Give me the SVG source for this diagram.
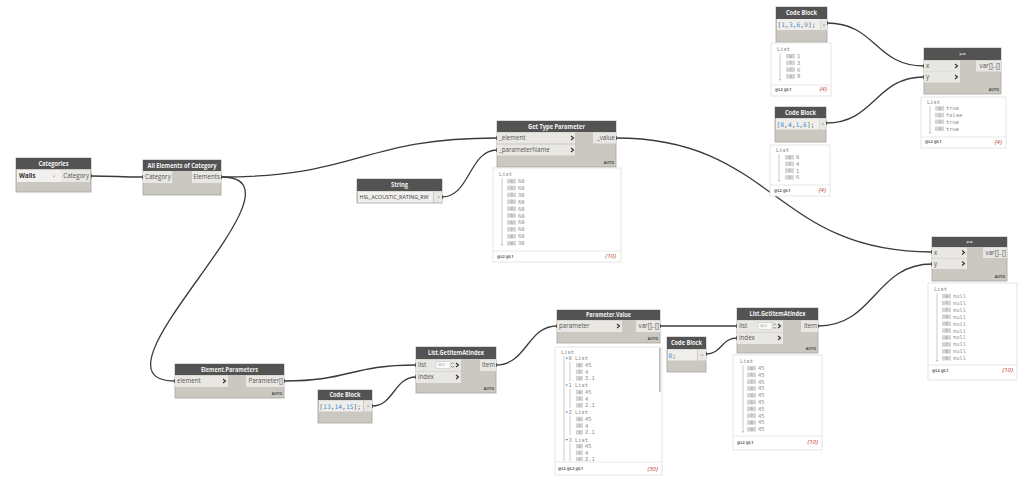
<svg xmlns="http://www.w3.org/2000/svg" width="1024" height="481" viewBox="0 0 1024 481">
<style>
.body{fill:#cbc8c2;stroke:#a8a49e;stroke-width:0.8}
.hdr{fill:#535353}
.ttl{font-family:"Open Sans","Liberation Sans",sans-serif;font-size:6.2px;font-weight:bold;fill:#f2f2f2;text-anchor:middle}
.port{fill:#e9e7e3}
.pt{font-family:"Open Sans","Liberation Sans",sans-serif;font-size:6.2px;fill:#555}
.ptr{font-family:"Open Sans","Liberation Sans",sans-serif;font-size:6.2px;fill:#555;text-anchor:end}
.chev{fill:none;stroke:#333;stroke-width:1.1}
.auto{font-family:"Open Sans","Liberation Sans",sans-serif;font-size:3.6px;font-weight:bold;fill:#444;text-anchor:end}
.code{font-family:"DejaVu Sans Mono","Liberation Mono",monospace;font-size:6.3px;fill:#666}
.num{fill:#3b8fdc}
.out{font-family:"Open Sans","Liberation Sans",sans-serif;font-size:5.5px;fill:#666}
.pv{fill:#ffffff;stroke:#dedede;stroke-width:0.8}
.fl{stroke:#e2e2e2;stroke-width:0.8}
.lt{font-family:"DejaVu Sans Mono","Liberation Mono",monospace;font-size:5.4px;fill:#888}
.ib{fill:#d6d6d6}
.it{font-family:"DejaVu Sans Mono","Liberation Mono",monospace;font-size:4.4px;fill:#999;text-anchor:middle}
.tl{stroke:#aaa;stroke-width:0.6;fill:none}
.ft{font-family:"Open Sans","Liberation Sans",sans-serif;font-size:3.8px;font-weight:bold;fill:#555}
.cnt{font-family:"Open Sans","Liberation Sans",sans-serif;font-size:6px;font-style:italic;fill:#c0392b;text-anchor:end}
.w{fill:none;stroke:#3a3a3a;stroke-width:1.3;marker-start:url(#pm);marker-end:url(#pm)}
.arr{fill:#3b8fdc}
.lvl{font-family:"Open Sans","Liberation Sans",sans-serif;font-size:3.4px;fill:#888}
</style>
<defs>
<marker id="pm" viewBox="0 0 4 4" refX="2" refY="2" markerWidth="2.4" markerHeight="3.6" markerUnits="userSpaceOnUse" preserveAspectRatio="none">
<rect x="0" y="0" width="4" height="4" fill="#222"/>
</marker>
<clipPath id="pvclip"><rect x="555" y="347" width="104" height="114"/></clipPath>
</defs>
<rect width="1024" height="481" fill="#ffffff"/>

<g id="connectors">
<path class="w" d="M91,176 C117,176 117,177 143,177"/>
<path class="w" d="M221,177 C360,177 360,138 497,138"/>
<path class="w" d="M221,177 C321,177 75,381 175,381"/>
<path class="w" d="M442,197 C470,197 469,150 497,150"/>
<path class="w" d="M616,138 C774,138 774,252 932,252"/>
<path class="w" d="M827,23 C876,23 875,66 924,66"/>
<path class="w" d="M826,123 C875,123 875,77 924,77"/>
<path class="w" d="M284,381 C350,381 350,365 416,365"/>
<path class="w" d="M372,406 C394,406 394,377 416,377"/>
<path class="w" d="M496,365 C527,365 527,326 557,326"/>
<path class="w" d="M660,326 C698,326 698,326 737,326"/>
<path class="w" d="M706,354 C722,354 721,338 737,338"/>
<path class="w" d="M818,326 C875,326 875,264 932,264"/>
</g>

<g id="n-categories">
<rect class="body" x="16" y="158" width="75" height="34"/>
<rect class="hdr" x="16" y="158" width="75" height="11"/>
<text class="ttl" x="53.5" y="165.5" textLength="30" lengthAdjust="spacingAndGlyphs">Categories</text>
<rect x="17" y="170" width="44" height="12" fill="#f1f0ee"/>
<text class="pt" x="19" y="178" style="font-weight:bold;fill:#333">Walls</text>
<path d="M52.5,175.5 L54,177 L55.5,175.5" fill="none" stroke="#999" stroke-width="0.6"/>
<rect class="port" x="61" y="170" width="29" height="12"/>
<text class="ptr" x="89" y="178">Category</text>
</g>

<g id="n-allelements">
<rect class="body" x="143" y="160" width="78" height="35"/>
<rect class="hdr" x="143" y="160" width="78" height="11"/>
<text class="ttl" x="182" y="167.5" textLength="69" lengthAdjust="spacingAndGlyphs">All Elements of Category</text>
<rect class="port" x="143" y="171" width="29" height="12"/>
<text class="pt" x="145" y="179">Category</text>
<rect class="port" x="192" y="171" width="29" height="12"/>
<text class="ptr" x="220" y="179">Elements</text>
</g>

<g id="n-gettypeparameter">
<rect class="body" x="497" y="121" width="119" height="46"/>
<rect class="hdr" x="497" y="121" width="119" height="11"/>
<text class="ttl" x="556.5" y="128.5" textLength="57" lengthAdjust="spacingAndGlyphs">Get Type Parameter</text>
<rect class="port" x="497" y="132.5" width="78" height="11"/>
<text class="pt" x="499" y="140">_element</text>
<path class="chev" d="M571,136 L573.5,138 L571,140"/>
<rect class="port" x="497" y="144.5" width="78" height="11"/>
<text class="pt" x="499" y="152">_parameterName</text>
<path class="chev" d="M571,148 L573.5,150 L571,152"/>
<rect class="port" x="593" y="132.5" width="23" height="11"/>
<text class="ptr" x="615" y="140">_value</text>
<text class="auto" x="614" y="164">AUTO</text>
</g>
<g id="pv-gettypeparameter">
<rect class="pv" x="493" y="168" width="128" height="94"/>
<line class="fl" x1="493" y1="251" x2="621" y2="251"/>
<text class="lt" x="499" y="176">List</text>
<path class="tl" d="M502,178 V245 M501,244 L502,245.5 L503,244"/>
<g>
<rect class="ib" x="507" y="178.8" width="9" height="4.6"/><text class="it" x="511.5" y="182.5">0</text><text class="lt" x="518" y="183">60</text>
<rect class="ib" x="507" y="185.7" width="9" height="4.6"/><text class="it" x="511.5" y="189.4">1</text><text class="lt" x="518" y="189.9">60</text>
<rect class="ib" x="507" y="192.6" width="9" height="4.6"/><text class="it" x="511.5" y="196.3">2</text><text class="lt" x="518" y="196.8">30</text>
<rect class="ib" x="507" y="199.5" width="9" height="4.6"/><text class="it" x="511.5" y="203.2">3</text><text class="lt" x="518" y="203.7">60</text>
<rect class="ib" x="507" y="206.4" width="9" height="4.6"/><text class="it" x="511.5" y="210.1">4</text><text class="lt" x="518" y="210.6">60</text>
<rect class="ib" x="507" y="213.3" width="9" height="4.6"/><text class="it" x="511.5" y="217">5</text><text class="lt" x="518" y="217.5">60</text>
<rect class="ib" x="507" y="220.2" width="9" height="4.6"/><text class="it" x="511.5" y="223.9">6</text><text class="lt" x="518" y="224.4">60</text>
<rect class="ib" x="507" y="227.1" width="9" height="4.6"/><text class="it" x="511.5" y="230.8">7</text><text class="lt" x="518" y="231.3">60</text>
<rect class="ib" x="507" y="234" width="9" height="4.6"/><text class="it" x="511.5" y="237.7">8</text><text class="lt" x="518" y="238.2">60</text>
<rect class="ib" x="507" y="240.9" width="9" height="4.6"/><text class="it" x="511.5" y="244.6">9</text><text class="lt" x="518" y="245.1">30</text>
</g>
<text class="ft" x="497" y="257.5">@L2 @L1</text>
<text class="cnt" x="616" y="258">{10}</text>
</g>

<g id="n-string">
<rect class="body" x="357" y="179" width="85" height="24"/>
<rect class="hdr" x="357" y="179" width="85" height="12"/>
<text class="ttl" x="399.5" y="187" textLength="17" lengthAdjust="spacingAndGlyphs">String</text>
<rect x="358" y="191.5" width="75" height="11" fill="#f1f0ee"/>
<text class="pt" x="359.5" y="199.2" style="font-size:5px;fill:#333" textLength="69" lengthAdjust="spacingAndGlyphs">HSL_ACOUSTIC_RATING_RW</text>
<rect class="port" x="434" y="191.5" width="8" height="11"/>
<text class="out" x="438.5" y="199" text-anchor="middle">&gt;</text>
</g>

<g id="n-codeblock1">
<rect class="body" x="776" y="7" width="51" height="35"/>
<rect class="hdr" x="776" y="7" width="51" height="12"/>
<text class="ttl" x="801.5" y="15" textLength="31" lengthAdjust="spacingAndGlyphs">Code Block</text>
<rect x="777" y="19" width="43" height="11" fill="#efeeeb"/>
<text class="code" x="777.5" y="27">[<tspan class="num">1</tspan>,<tspan class="num">3</tspan>,<tspan class="num">6</tspan>,<tspan class="num">9</tspan>];</text>
<rect class="port" x="820.5" y="19" width="6.5" height="11"/>
<text class="out" x="823.8" y="26.5" text-anchor="middle">&gt;</text>
</g>
<g id="pv-codeblock1">
<rect class="pv" x="771" y="43" width="60" height="53"/>
<line class="fl" x1="771" y1="85" x2="831" y2="85"/>
<text class="lt" x="777" y="51">List</text>
<path class="tl" d="M780,53 V80 M779,79 L780,80.5 L781,79"/>
<rect class="ib" x="786" y="53.8" width="9" height="4.6"/><text class="it" x="790.5" y="57.5">0</text><text class="lt" x="797" y="58">1</text>
<rect class="ib" x="786" y="60.6" width="9" height="4.6"/><text class="it" x="790.5" y="64.3">1</text><text class="lt" x="797" y="64.8">3</text>
<rect class="ib" x="786" y="67.3" width="9" height="4.6"/><text class="it" x="790.5" y="71">2</text><text class="lt" x="797" y="71.5">6</text>
<rect class="ib" x="786" y="74.1" width="9" height="4.6"/><text class="it" x="790.5" y="77.8">3</text><text class="lt" x="797" y="78.3">9</text>
<text class="ft" x="775" y="90.5">@L2 @L1</text>
<text class="cnt" x="827" y="91">{4}</text>
</g>

<g id="n-codeblock2">
<rect class="body" x="775" y="107" width="51" height="35"/>
<rect class="hdr" x="775" y="107" width="51" height="11"/>
<text class="ttl" x="800.5" y="114.5" textLength="31" lengthAdjust="spacingAndGlyphs">Code Block</text>
<rect x="776" y="118.5" width="43" height="11" fill="#efeeeb"/>
<text class="code" x="776.5" y="126.5">[<tspan class="num">0</tspan>,<tspan class="num">4</tspan>,<tspan class="num">1</tspan>,<tspan class="num">6</tspan>];</text>
<rect class="port" x="819.5" y="118.5" width="6.5" height="11"/>
<text class="out" x="822.8" y="126" text-anchor="middle">&gt;</text>
</g>
<g id="pv-codeblock2">
<rect class="pv" x="770" y="145" width="60" height="51"/>
<line class="fl" x1="770" y1="185" x2="830" y2="185"/>
<text class="lt" x="776" y="152">List</text>
<path class="tl" d="M779,154 V181 M778,180 L779,181.5 L780,180"/>
<rect class="ib" x="785" y="155" width="9" height="4.6"/><text class="it" x="789.5" y="158.7">0</text><text class="lt" x="796" y="159.2">0</text>
<rect class="ib" x="785" y="161.6" width="9" height="4.6"/><text class="it" x="789.5" y="165.3">1</text><text class="lt" x="796" y="165.8">4</text>
<rect class="ib" x="785" y="168.3" width="9" height="4.6"/><text class="it" x="789.5" y="172">2</text><text class="lt" x="796" y="172.5">1</text>
<rect class="ib" x="785" y="175.1" width="9" height="4.6"/><text class="it" x="789.5" y="178.8">3</text><text class="lt" x="796" y="179.3">6</text>
<text class="ft" x="774" y="191.5">@L2 @L1</text>
<text class="cnt" x="826" y="192">{4}</text>
</g>

<g id="n-gte-top">
<rect class="body" x="924" y="48" width="77" height="46"/>
<rect class="hdr" x="924" y="48" width="77" height="12"/>
<text class="ttl" x="962.5" y="56" style="font-size:5.5px">&gt;=</text>
<rect class="port" x="924" y="60.5" width="36" height="11"/>
<text class="pt" x="926" y="68">x</text>
<path class="chev" d="M955,64 L957.5,66 L955,68"/>
<rect class="port" x="924" y="71.5" width="36" height="11"/>
<text class="pt" x="926" y="79">y</text>
<path class="chev" d="M955,75 L957.5,77 L955,79"/>
<rect class="port" x="976" y="60.5" width="25" height="11"/>
<text class="ptr" x="1000" y="68">var[]..[]</text>
<text class="auto" x="999" y="91">AUTO</text>
</g>
<g id="pv-gte-top">
<rect class="pv" x="921" y="97" width="85" height="51"/>
<line class="fl" x1="921" y1="137" x2="1006" y2="137"/>
<text class="lt" x="927" y="104">List</text>
<path class="tl" d="M930,106 V133 M929,132 L930,133.5 L931,132"/>
<rect class="ib" x="935" y="106.1" width="9" height="4.6"/><text class="it" x="939.5" y="109.8">0</text><text class="lt" x="946" y="110.3">true</text>
<rect class="ib" x="935" y="112.8" width="9" height="4.6"/><text class="it" x="939.5" y="116.5">1</text><text class="lt" x="946" y="117">false</text>
<rect class="ib" x="935" y="119.5" width="9" height="4.6"/><text class="it" x="939.5" y="123.2">2</text><text class="lt" x="946" y="123.7">true</text>
<rect class="ib" x="935" y="126.5" width="9" height="4.6"/><text class="it" x="939.5" y="130.2">3</text><text class="lt" x="946" y="130.7">true</text>
<text class="ft" x="925" y="143">@L2 @L1</text>
<text class="cnt" x="1002" y="143.5">{4}</text>
</g>

<g id="n-gte-bottom">
<rect class="body" x="932" y="237" width="75" height="44"/>
<rect class="hdr" x="932" y="237" width="75" height="10"/>
<text class="ttl" x="969.5" y="244" style="font-size:5.5px">&gt;=</text>
<rect class="port" x="932" y="247.5" width="35" height="10.5"/>
<text class="pt" x="934" y="254.8">x</text>
<path class="chev" d="M962,250.5 L964.5,252.5 L962,254.5"/>
<rect class="port" x="932" y="258.5" width="35" height="10.5"/>
<text class="pt" x="934" y="265.8">y</text>
<path class="chev" d="M962,261.5 L964.5,263.5 L962,265.5"/>
<rect class="port" x="983" y="247.5" width="24" height="10.5"/>
<text class="ptr" x="1006" y="254.8">var[]..[]</text>
<text class="auto" x="1005" y="278">AUTO</text>
</g>
<g id="pv-gte-bottom">
<rect class="pv" x="928" y="283" width="89" height="97"/>
<line class="fl" x1="928" y1="365" x2="1017" y2="365"/>
<text class="lt" x="934" y="291">List</text>
<path class="tl" d="M937,293 V361 M936,360 L937,361.5 L938,360"/>
<rect class="ib" x="942" y="293.8" width="9" height="4.6"/><text class="it" x="946.5" y="297.5">0</text><text class="lt" x="953" y="298">null</text>
<rect class="ib" x="942" y="300.7" width="9" height="4.6"/><text class="it" x="946.5" y="304.4">1</text><text class="lt" x="953" y="304.9">null</text>
<rect class="ib" x="942" y="307.6" width="9" height="4.6"/><text class="it" x="946.5" y="311.3">2</text><text class="lt" x="953" y="311.8">null</text>
<rect class="ib" x="942" y="314.5" width="9" height="4.6"/><text class="it" x="946.5" y="318.2">3</text><text class="lt" x="953" y="318.7">null</text>
<rect class="ib" x="942" y="321.4" width="9" height="4.6"/><text class="it" x="946.5" y="325.1">4</text><text class="lt" x="953" y="325.6">null</text>
<rect class="ib" x="942" y="328.3" width="9" height="4.6"/><text class="it" x="946.5" y="332">5</text><text class="lt" x="953" y="332.5">null</text>
<rect class="ib" x="942" y="335.2" width="9" height="4.6"/><text class="it" x="946.5" y="338.9">6</text><text class="lt" x="953" y="339.4">null</text>
<rect class="ib" x="942" y="342.1" width="9" height="4.6"/><text class="it" x="946.5" y="345.8">7</text><text class="lt" x="953" y="346.3">null</text>
<rect class="ib" x="942" y="349" width="9" height="4.6"/><text class="it" x="946.5" y="352.7">8</text><text class="lt" x="953" y="353.2">null</text>
<rect class="ib" x="942" y="355.9" width="9" height="4.6"/><text class="it" x="946.5" y="359.6">9</text><text class="lt" x="953" y="360.1">null</text>
<text class="ft" x="932" y="371.5">@L2 @L1</text>
<text class="cnt" x="1013" y="372">{10}</text>
</g>

<g id="n-elementparameters">
<rect class="body" x="175" y="364" width="109" height="34"/>
<rect class="hdr" x="175" y="364" width="109" height="11"/>
<text class="ttl" x="229.5" y="371.5" textLength="57" lengthAdjust="spacingAndGlyphs">Element.Parameters</text>
<rect class="port" x="175" y="375.5" width="53" height="11.5"/>
<text class="pt" x="177" y="383.2">element</text>
<path class="chev" d="M223,379 L225.5,381 L223,383"/>
<rect class="port" x="246" y="375.5" width="38" height="11.5"/>
<text class="ptr" x="283" y="383.2">Parameter[]</text>
<text class="auto" x="282" y="395">AUTO</text>
</g>

<g id="n-getitem1">
<rect class="body" x="416" y="347" width="80" height="46"/>
<rect class="hdr" x="416" y="347" width="80" height="12"/>
<text class="ttl" x="456" y="355" textLength="56" lengthAdjust="spacingAndGlyphs">List.GetItemAtIndex</text>
<rect class="port" x="416" y="359.5" width="45" height="11.5"/>
<text class="pt" x="418" y="367">list</text>
<rect x="436" y="361.8" width="14" height="6.5" fill="#fafafa" stroke="#bbb" stroke-width="0.4"/>
<text class="lvl" x="438" y="366.4">@L2</text>
<path d="M451,364.2 L452.5,362.6 L454,364.2 M451,366 L452.5,367.6 L454,366" fill="none" stroke="#666" stroke-width="0.6"/>
<path class="chev" d="M456,363 L458.5,365 L456,367"/>
<rect class="port" x="416" y="371.5" width="45" height="11.5"/>
<text class="pt" x="418" y="379">index</text>
<path class="chev" d="M456,375 L458.5,377 L456,379"/>
<rect class="port" x="480" y="359.5" width="16" height="11.5"/>
<text class="ptr" x="495" y="367">item</text>
<text class="auto" x="494" y="390">AUTO</text>
</g>

<g id="n-codeblock3">
<rect class="body" x="318" y="390" width="54" height="33"/>
<rect class="hdr" x="318" y="390" width="54" height="10"/>
<text class="ttl" x="345" y="397.3" textLength="31" lengthAdjust="spacingAndGlyphs">Code Block</text>
<rect x="319" y="400.5" width="44" height="11" fill="#efeeeb"/>
<text class="code" x="319.3" y="408.5">[<tspan class="num">13</tspan>,<tspan class="num">14</tspan>,<tspan class="num">15</tspan>];</text>
<rect class="port" x="364" y="400.5" width="8" height="11"/>
<text class="out" x="368" y="408" text-anchor="middle">&gt;</text>
</g>

<g id="n-parametervalue">
<rect class="body" x="557" y="310" width="103" height="33"/>
<rect class="hdr" x="557" y="310" width="103" height="10"/>
<text class="ttl" x="608.5" y="317.3" textLength="45" lengthAdjust="spacingAndGlyphs">Parameter.Value</text>
<rect class="port" x="557" y="320.5" width="65" height="11.5"/>
<text class="pt" x="559" y="328">parameter</text>
<path class="chev" d="M617,324 L619.5,326 L617,328"/>
<rect class="port" x="636" y="320.5" width="24" height="11.5"/>
<text class="ptr" x="659" y="328">var[]..[]</text>
<text class="auto" x="658" y="340">AUTO</text>
</g>
<g id="pv-parametervalue">
<rect class="pv" x="555" y="347" width="107" height="128"/>
<line class="fl" x1="555" y1="462" x2="662" y2="462"/>
<rect x="659" y="348" width="1.6" height="44" fill="#bbb"/>
<g clip-path="url(#pvclip)">
<text class="lt" x="561" y="354">List</text>
<path class="tl" d="M564,356 V468"/>
<path class="arr" d="M565.5,357.5 L568,357.5 L566.75,359.3 Z"/>
<text class="lt" x="568.5" y="360">0 List</text>
<path class="tl" d="M570,361.5 V381"/>
<rect class="ib" x="576" y="362.8" width="7" height="4.6"/><text class="it" x="579.5" y="366.5">0</text><text class="lt" x="585" y="367">45</text>
<rect class="ib" x="576" y="369.5" width="7" height="4.6"/><text class="it" x="579.5" y="373.2">1</text><text class="lt" x="585" y="373.7">4</text>
<rect class="ib" x="576" y="376" width="7" height="4.6"/><text class="it" x="579.5" y="379.7">2</text><text class="lt" x="585" y="380.2">2.1</text>
<path class="arr" d="M565.5,384.5 L568,384.5 L566.75,386.3 Z"/>
<text class="lt" x="568.5" y="387">1 List</text>
<path class="tl" d="M570,388.5 V408"/>
<rect class="ib" x="576" y="389.8" width="7" height="4.6"/><text class="it" x="579.5" y="393.5">0</text><text class="lt" x="585" y="394">45</text>
<rect class="ib" x="576" y="396.3" width="7" height="4.6"/><text class="it" x="579.5" y="400">1</text><text class="lt" x="585" y="400.5">4</text>
<rect class="ib" x="576" y="403" width="7" height="4.6"/><text class="it" x="579.5" y="406.7">2</text><text class="lt" x="585" y="407.2">2.1</text>
<path class="arr" d="M565.5,411.5 L568,411.5 L566.75,413.3 Z"/>
<text class="lt" x="568.5" y="414">2 List</text>
<path class="tl" d="M570,415.5 V435"/>
<rect class="ib" x="576" y="416.8" width="7" height="4.6"/><text class="it" x="579.5" y="420.5">0</text><text class="lt" x="585" y="421">45</text>
<rect class="ib" x="576" y="423.3" width="7" height="4.6"/><text class="it" x="579.5" y="427">1</text><text class="lt" x="585" y="427.5">4</text>
<rect class="ib" x="576" y="430" width="7" height="4.6"/><text class="it" x="579.5" y="433.7">2</text><text class="lt" x="585" y="434.2">2.1</text>
<path class="arr" d="M565.5,439 L568,439 L566.75,440.8 Z"/>
<text class="lt" x="568.5" y="441.5">3 List</text>
<path class="tl" d="M570,443 V462"/>
<rect class="ib" x="576" y="443.8" width="7" height="4.6"/><text class="it" x="579.5" y="447.5">0</text><text class="lt" x="585" y="448">45</text>
<rect class="ib" x="576" y="450.5" width="7" height="4.6"/><text class="it" x="579.5" y="454.2">1</text><text class="lt" x="585" y="454.7">4</text>
<rect class="ib" x="576" y="457" width="7" height="4.6"/><text class="it" x="579.5" y="460.7">2</text><text class="lt" x="585" y="461.2">2.1</text>
</g>
<text class="ft" x="558" y="470">@L3 @L2 @L1</text>
<text class="cnt" x="658" y="470.5">{30}</text>
</g>

<g id="n-codeblock0">
<rect class="body" x="667" y="337" width="39" height="35"/>
<rect class="hdr" x="667" y="337" width="39" height="12"/>
<text class="ttl" x="686.5" y="345" textLength="31" lengthAdjust="spacingAndGlyphs">Code Block</text>
<rect x="668" y="349.5" width="29" height="11" fill="#efeeeb"/>
<text class="code" x="668.5" y="357.5"><tspan class="num">0</tspan>;</text>
<rect class="port" x="698" y="349.5" width="8" height="11"/>
<text class="out" x="702" y="357" text-anchor="middle">&gt;</text>
</g>

<g id="n-getitem2">
<rect class="body" x="737" y="308" width="81" height="45"/>
<rect class="hdr" x="737" y="308" width="81" height="12"/>
<text class="ttl" x="777.5" y="316" textLength="56" lengthAdjust="spacingAndGlyphs">List.GetItemAtIndex</text>
<rect class="port" x="737" y="320.5" width="46" height="11.5"/>
<text class="pt" x="739" y="328">list</text>
<rect x="758" y="322.8" width="14" height="6.5" fill="#fafafa" stroke="#bbb" stroke-width="0.4"/>
<text class="lvl" x="760" y="327.4">@L2</text>
<path d="M773,325.2 L774.5,323.6 L776,325.2 M773,327 L774.5,328.6 L776,327" fill="none" stroke="#666" stroke-width="0.6"/>
<path class="chev" d="M778,324 L780.5,326 L778,328"/>
<rect class="port" x="737" y="332.5" width="46" height="11.5"/>
<text class="pt" x="739" y="340">index</text>
<path class="chev" d="M778,336 L780.5,338 L778,340"/>
<rect class="port" x="801" y="320.5" width="17" height="11.5"/>
<text class="ptr" x="817" y="328">item</text>
<text class="auto" x="816" y="349.5">AUTO</text>
</g>
<g id="pv-getitem2">
<rect class="pv" x="733" y="355" width="89" height="95"/>
<line class="fl" x1="733" y1="436" x2="822" y2="436"/>
<text class="lt" x="740" y="363">List</text>
<path class="tl" d="M743,365 V432 M742,431 L743,432.5 L744,431"/>
<rect class="ib" x="747" y="365.8" width="9" height="4.6"/><text class="it" x="751.5" y="369.5">0</text><text class="lt" x="758" y="370">45</text>
<rect class="ib" x="747" y="372.6" width="9" height="4.6"/><text class="it" x="751.5" y="376.3">1</text><text class="lt" x="758" y="376.8">45</text>
<rect class="ib" x="747" y="379.4" width="9" height="4.6"/><text class="it" x="751.5" y="383.1">2</text><text class="lt" x="758" y="383.6">45</text>
<rect class="ib" x="747" y="386.2" width="9" height="4.6"/><text class="it" x="751.5" y="389.9">3</text><text class="lt" x="758" y="390.4">45</text>
<rect class="ib" x="747" y="393" width="9" height="4.6"/><text class="it" x="751.5" y="396.7">4</text><text class="lt" x="758" y="397.2">45</text>
<rect class="ib" x="747" y="399.8" width="9" height="4.6"/><text class="it" x="751.5" y="403.5">5</text><text class="lt" x="758" y="404">45</text>
<rect class="ib" x="747" y="406.6" width="9" height="4.6"/><text class="it" x="751.5" y="410.3">6</text><text class="lt" x="758" y="410.8">45</text>
<rect class="ib" x="747" y="413.4" width="9" height="4.6"/><text class="it" x="751.5" y="417.1">7</text><text class="lt" x="758" y="417.6">45</text>
<rect class="ib" x="747" y="420.2" width="9" height="4.6"/><text class="it" x="751.5" y="423.9">8</text><text class="lt" x="758" y="424.4">45</text>
<rect class="ib" x="747" y="427" width="9" height="4.6"/><text class="it" x="751.5" y="430.7">9</text><text class="lt" x="758" y="431.2">45</text>
<text class="ft" x="737" y="443.5">@L2 @L1</text>
<text class="cnt" x="818" y="444">{10}</text>
</g>
</svg>
